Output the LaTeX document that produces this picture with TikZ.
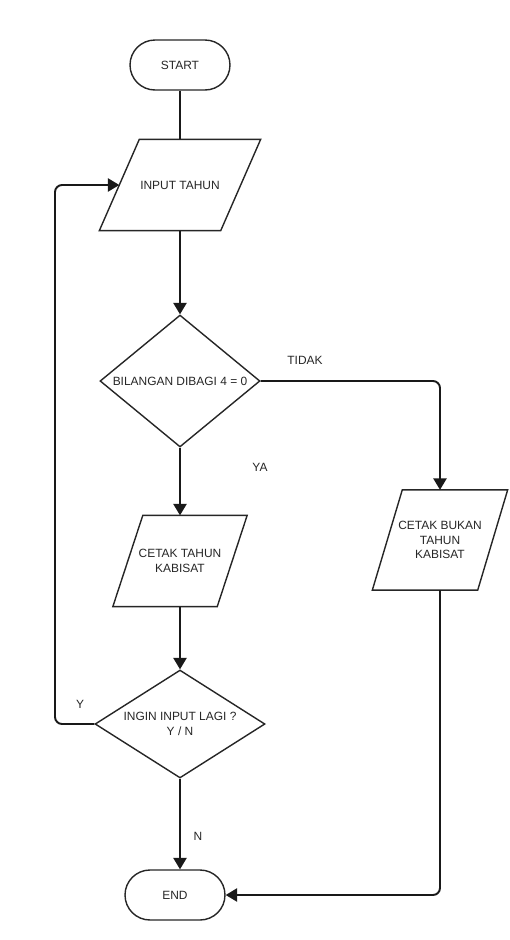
\documentclass[tikz,border=0pt]{standalone}
\usepackage{fontspec}
\setmainfont{Liberation Sans}
\usetikzlibrary{arrows.meta,shapes}

\begin{document}
\begin{tikzpicture}[x=0.02cm,y=-0.02cm]
\tikzset{box/.style={draw=black!85,line width=0.8pt,text=black!85,font=\fontsize{6.8}{8.2}\selectfont,align=center,inner sep=1pt},
terminal/.style={box,rectangle,rounded corners=0.5cm,minimum width=2cm,minimum height=1cm},
io/.style={box,draw=none,rectangle},
outline/.style={draw=black!85,line width=0.8pt},
decision/.style={box,diamond,inner sep=0pt},
flow/.style={line width=1.1pt,black!90,-{Triangle[length=6.5pt,width=7.5pt]},rounded corners=4pt},
lbl/.style={text=black!85,font=\fontsize{6.8}{8.2}\selectfont}}
\useasboundingbox(0,0)rectangle(510,940);

\node[terminal](start)at(180,65){START};
\node[io,minimum width=2.4cm,minimum height=1.8cm](input)at(180,185){INPUT TAHUN};
\node[decision,aspect=1.21,minimum width=3.2cm,minimum height=2.64cm](cek)at(180,381){BILANGAN DIBAGI 4 = 0};
\node[io,minimum width=2.06cm,minimum height=1.8cm](kabisat)at(180,561){CETAK TAHUN\\KABISAT};
\node[io,minimum width=2.08cm,minimum height=1.98cm](bukan)at(440,540){CETAK BUKAN\\TAHUN\\KABISAT};
\node[decision,aspect=1.57,minimum width=3.4cm,minimum height=2.16cm](lagi)at(180,724){INGIN INPUT LAGI ?\\Y / N};
\node[terminal](end)at(175,895){END};

% parallelogram outlines
\foreach \n/\s in {input/0.8cm,kabisat/0.6cm,bukan/0.6cm}
\draw[outline]([xshift=\s/2]\n.north west)--([xshift=\s/2]\n.north east)
  --([xshift=-\s/2]\n.south east)--([xshift=-\s/2]\n.south west)--cycle;

\node[lbl](tidak)at(305,360){TIDAK};
\node[lbl](ya)at(260,467){YA};
\node[lbl](y)at(80,704){Y};
\node[lbl](n)at(198,836){N};

\coordinate(back)at(55,724);

\draw[line width=1.1pt,black!90](start)--(input);
\draw[flow](input)--(cek);
\draw[flow](cek.east)-|(bukan.north);
\draw[flow](cek)--(kabisat);
\draw[flow](kabisat)--(lagi);
\draw[flow](lagi.south)--(lagi.south|-end.north);
\draw[flow](lagi.west)--(back)|-(input.west);
\draw[flow](bukan.south)|-(end.east);
\end{tikzpicture}
\end{document}
